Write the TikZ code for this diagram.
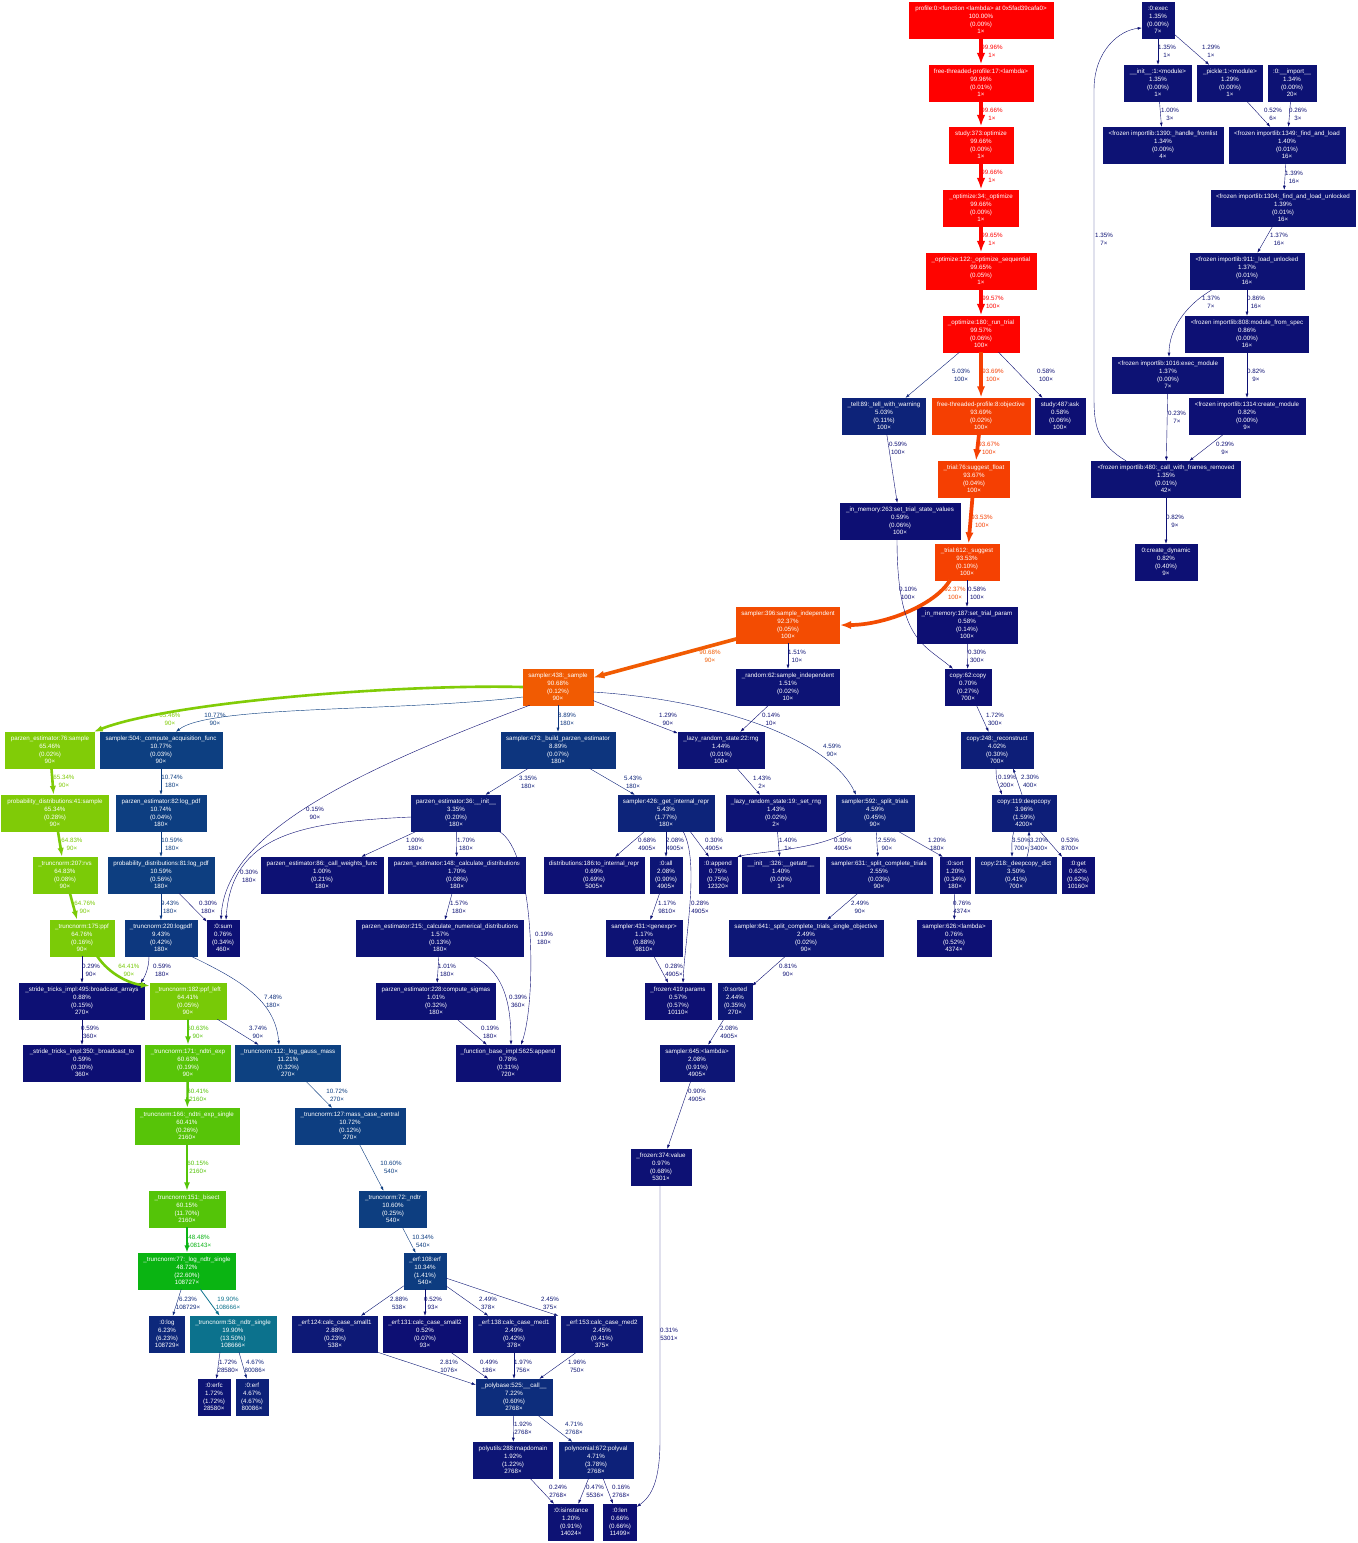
\documentclass[tikz,border=0pt]{standalone}
\usepackage{fontspec}
\setmainfont{Liberation Sans}
\usetikzlibrary{arrows.meta}
\newcommand\heat[2]{%
  \pgfmathsetmacro\hcH{(1-#2)*2/3}%
  \pgfmathsetmacro\hcS{0.8+0.2*#2}%
  \pgfmathsetmacro\hcT{2*\hcS/(1+\hcS)}%
  \pgfmathsetmacro\hcV{min((0.25+0.25*#2)*(1+\hcS),1)}%
  \edef\hcDo{\noexpand\convertcolorspec{hsb}{\hcH,\hcT,\hcV}{rgb}\noexpand\hcRGB}\hcDo
  \definecolor{#1}{rgb}{\hcRGB}}
\newcommand\gfont{\fontsize{6.2}{7.8}\selectfont}
\begin{document}
\begin{tikzpicture}[x=1pt,y=-1pt]
    \tikzset{fn/.style 2 args={/utils/exec={\heat{nc}{#2}},fill=nc,draw=nc,
        minimum width=#1pt,minimum height=36pt,inner sep=0pt,text=white,
        align=center,font=\gfont},
      call/.style={/utils/exec={\heat{ec}{#1}\pgfmathsetmacro\ew{max(4*#1,0.4)}},
        draw=ec,line width=\ew pt,-{Latex[length=3.2pt 2.2,width=2.2pt 1.6]}},
      lbl/.style={text=ec,align=center,font=\gfont,inner sep=0pt}}
    \fill[white] (0,0) rectangle (1358,1543);
    \useasboundingbox (0,0) rectangle (1358,1543);
    %\node (name) at (x,y) [fn={width}{weight}] {text};
    %\draw [call=weight] (a) -- (b) node[lbl] at (x,y) {label};
    \node (prof) at (981,20) [fn={144}{1}] {profile:0:<function <lambda> at 0x5fad39cafa0>\\100.00\%\\(0.00\%)\\1×};
    \node (ft17) at (981,83) [fn={104}{0.9996}] {free-threaded-profile:17:<lambda>\\99.96\%\\(0.01\%)\\1×};
    \node (opt373) at (981,145) [fn={64}{0.9966}] {study:373:optimize\\99.66\%\\(0.00\%)\\1×};
    \node (opt34) at (981,208) [fn={75}{0.9966}] {\_optimize:34:\_optimize\\99.66\%\\(0.00\%)\\1×};
    \node (opt122) at (981,271) [fn={110}{0.9965}] {\_optimize:122:\_optimize\_sequential\\99.65\%\\(0.05\%)\\1×};
    \node (run180) at (981,334) [fn={76}{0.9957}] {\_optimize:180:\_run\_trial\\99.57\%\\(0.06\%)\\100×};
    \node (tell89) at (884,416) [fn={83}{0.0503}] {\_tell:89:\_tell\_with\_warning\\5.03\%\\(0.11\%)\\100×};
    \node (obj8) at (981,416) [fn={98}{0.9369}] {free-threaded-profile:8:objective\\93.69\%\\(0.02\%)\\100×};
    \node (ask487) at (1060,416) [fn={50}{0.0058}] {study:487:ask\\0.58\%\\(0.06\%)\\100×};
    \node (sf76) at (974,479) [fn={71}{0.9367}] {\_trial:76:suggest\_float\\93.67\%\\(0.04\%)\\100×};
    \node (sts263) at (900,521) [fn={120}{0.0059}] {\_in\_memory:263:set\_trial\_state\_values\\0.59\%\\(0.06\%)\\100×};
    \node (sug612) at (967,562) [fn={64}{0.9353}] {\_trial:612:\_suggest\\93.53\%\\(0.10\%)\\100×};
    \node (si396) at (788,625) [fn={103}{0.9237}] {sampler:396:sample\_independent\\92.37\%\\(0.05\%)\\100×};
    \node (stp187) at (967,625) [fn={100}{0.0058}] {\_in\_memory:187:set\_trial\_param\\0.58\%\\(0.14\%)\\100×};
    \node (smp438) at (558,687) [fn={70}{0.9068}] {sampler:438:\_sample\\90.68\%\\(0.12\%)\\90×};
    \node (rsi62) at (788,687) [fn={103}{0.0151}] {\_random:62:sample\_independent\\1.51\%\\(0.02\%)\\10×};
    \node (copy62) at (968,687) [fn={46}{0.0070}] {copy:62:copy\\0.70\%\\(0.27\%)\\700×};
    \node (p76) at (50,750) [fn={89}{0.6546}] {parzen\_estimator:76:sample\\65.46\%\\(0.02\%)\\90×};
    \node (acq504) at (161,750) [fn={122}{0.1077}] {sampler:504:\_compute\_acquisition\_func\\10.77\%\\(0.03\%)\\90×};
    \node (bpe473) at (558,750) [fn={114}{0.0889}] {sampler:473:\_build\_parzen\_estimator\\8.89\%\\(0.07\%)\\180×};
    \node (rng22) at (721,750) [fn={86}{0.0144}] {\_lazy\_random\_state:22:rng\\1.44\%\\(0.01\%)\\100×};
    \node (rec248) at (997,750) [fn={72}{0.0402}] {copy:248:\_reconstruct\\4.02\%\\(0.30\%)\\700×};
    \node (pd41) at (55,813) [fn={107}{0.6534}] {probability\_distributions:41:sample\\65.34\%\\(0.28\%)\\90×};
    \node (lp82) at (161,813) [fn={90}{0.1074}] {parzen\_estimator:82:log\_pdf\\10.74\%\\(0.04\%)\\180×};
    \node (init36) at (456,813) [fn={89}{0.0335}] {parzen\_estimator:36:\_\_init\_\_\\3.35\%\\(0.20\%)\\180×};
    \node (gir426) at (666,813) [fn={96}{0.0543}] {sampler:426:\_get\_internal\_repr\\5.43\%\\(1.77\%)\\180×};
    \node (srng19) at (776,813) [fn={100}{0.0143}] {\_lazy\_random\_state:19:\_set\_rng\\1.43\%\\(0.02\%)\\2×};
    \node (st592) at (875,813) [fn={78}{0.0459}] {sampler:592:\_split\_trials\\4.59\%\\(0.45\%)\\90×};
    \node (dc119) at (1024,813) [fn={64}{0.0396}] {copy:119:deepcopy\\3.96\%\\(1.59\%)\\4200×};
    \node (rvs207) at (65,875) [fn={64}{0.6483}] {\_truncnorm:207:rvs\\64.83\%\\(0.08\%)\\90×};
    \node (pd81) at (161,875) [fn={106}{0.1059}] {probability\_distributions:81:log\_pdf\\10.59\%\\(0.56\%)\\180×};
    \node (cwf86) at (322,875) [fn={122}{0.0100}] {parzen\_estimator:86:\_call\_weights\_func\\1.00\%\\(0.21\%)\\180×};
    \node (cd148) at (457,875) [fn={137}{0.0170}] {parzen\_estimator:148:\_calculate\_distributions\\1.70\%\\(0.08\%)\\180×};
    \node (tir186) at (594,875) [fn={100}{0.0069}] {distributions:186:to\_internal\_repr\\0.69\%\\(0.69\%)\\5005×};
    \node (all0) at (666,875) [fn={32}{0.0208}] {:0:all\\2.08\%\\(0.90\%)\\4905×};
    \node (app0) at (718,875) [fn={38}{0.0075}] {:0:append\\0.75\%\\(0.75\%)\\12320×};
    \node (ga326) at (781,875) [fn={77}{0.0140}] {\_\_init\_\_:326:\_\_getattr\_\_\\1.40\%\\(0.00\%)\\1×};
    \node (sct631) at (879,875) [fn={106}{0.0255}] {sampler:631:\_split\_complete\_trials\\2.55\%\\(0.03\%)\\90×};
    \node (sort0) at (955,875) [fn={30}{0.0120}] {:0:sort\\1.20\%\\(0.34\%)\\180×};
    \node (dcd218) at (1016,875) [fn={81}{0.0350}] {copy:218:\_deepcopy\_dict\\3.50\%\\(0.41\%)\\700×};
    \node (get0) at (1078,875) [fn={32}{0.0062}] {:0:get\\0.62\%\\(0.62\%)\\10160×};
    \node (ppf175) at (82,938) [fn={64}{0.6476}] {\_truncnorm:175:ppf\\64.76\%\\(0.16\%)\\90×};
    \node (lpdf220) at (161,938) [fn={72}{0.0943}] {\_truncnorm:220:logpdf\\9.43\%\\(0.42\%)\\180×};
    \node (sum0) at (223,938) [fn={32}{0.0076}] {:0:sum\\0.76\%\\(0.34\%)\\460×};
    \node (cnd215) at (440,938) [fn={167}{0.0157}] {parzen\_estimator:215:\_calculate\_numerical\_distributions\\1.57\%\\(0.13\%)\\180×};
    \node (gex431) at (644,938) [fn={76}{0.0117}] {sampler:431:<genexpr>\\1.17\%\\(0.88\%)\\9810×};
    \node (sso641) at (806,938) [fn={154}{0.0249}] {sampler:641:\_split\_complete\_trials\_single\_objective\\2.49\%\\(0.02\%)\\90×};
    \node (lam626) at (954,938) [fn={74}{0.0076}] {sampler:626:<lambda>\\0.76\%\\(0.52\%)\\4374×};
    \node (ba495) at (82,1001) [fn={125}{0.0088}] {\_stride\_tricks\_impl:495:broadcast\_arrays\\0.88\%\\(0.15\%)\\270×};
    \node (ppl182) at (188,1001) [fn={76}{0.6441}] {\_truncnorm:182:ppf\_left\\64.41\%\\(0.05\%)\\90×};
    \node (cs228) at (436,1001) [fn={119}{0.0101}] {parzen\_estimator:228:compute\_sigmas\\1.01\%\\(0.32\%)\\180×};
    \node (par419) at (678,1001) [fn={66}{0.0057}] {\_frozen:419:params\\0.57\%\\(0.57\%)\\10110×};
    \node (srt0) at (735,1001) [fn={34}{0.0244}] {:0:sorted\\2.44\%\\(0.35\%)\\270×};
    \node (bt350) at (82,1063) [fn={117}{0.0059}] {\_stride\_tricks\_impl:350:\_broadcast\_to\\0.59\%\\(0.30\%)\\360×};
    \node (ne171) at (188,1063) [fn={85}{0.6063}] {\_truncnorm:171:\_ndtri\_exp\\60.63\%\\(0.19\%)\\90×};
    \node (lgm112) at (288,1063) [fn={105}{0.1121}] {\_truncnorm:112:\_log\_gauss\_mass\\11.21\%\\(0.32\%)\\270×};
    \node (fba5625) at (508,1063) [fn={104}{0.0078}] {\_function\_base\_impl:5625:append\\0.78\%\\(0.31\%)\\720×};
    \node (lam645) at (697,1063) [fn={74}{0.0208}] {sampler:645:<lambda>\\2.08\%\\(0.91\%)\\4905×};
    \node (nes166) at (187,1126) [fn={104}{0.6041}] {\_truncnorm:166:\_ndtri\_exp\_single\\60.41\%\\(0.26\%)\\2160×};
    \node (mcc127) at (350,1126) [fn={110}{0.1072}] {\_truncnorm:127:mass\_case\_central\\10.72\%\\(0.12\%)\\270×};
    \node (val374) at (661,1167) [fn={60}{0.0097}] {\_frozen:374:value\\0.97\%\\(0.68\%)\\5301×};
    \node (bis151) at (187,1209) [fn={76}{0.6015}] {\_truncnorm:151:\_bisect\\60.15\%\\(11.70\%)\\2160×};
    \node (ndtr72) at (393,1209) [fn={67}{0.1060}] {\_truncnorm:72:\_ndtr\\10.60\%\\(0.25\%)\\540×};
    \node (lns77) at (187,1271) [fn={97}{0.4872}] {\_truncnorm:77:\_log\_ndtr\_single\\48.72\%\\(22.60\%)\\108727×};
    \node (erf108) at (425,1271) [fn={42}{0.1034}] {\_erf:108:erf\\10.34\%\\(1.41\%)\\540×};
    \node (log0) at (167,1334) [fn={35}{0.0623}] {:0:log\\6.23\%\\(6.23\%)\\108729×};
    \node (ns58) at (233,1334) [fn={86}{0.1990}] {\_truncnorm:58:\_ndtr\_single\\19.90\%\\(13.50\%)\\108666×};
    \node (cs124) at (335,1334) [fn={85}{0.0288}] {\_erf:124:calc\_case\_small1\\2.88\%\\(0.23\%)\\538×};
    \node (cs131) at (425,1334) [fn={84}{0.0052}] {\_erf:131:calc\_case\_small2\\0.52\%\\(0.07\%)\\93×};
    \node (cm138) at (514,1334) [fn={82}{0.0249}] {\_erf:138:calc\_case\_med1\\2.49\%\\(0.42\%)\\378×};
    \node (cm153) at (602,1334) [fn={81}{0.0245}] {\_erf:153:calc\_case\_med2\\2.45\%\\(0.41\%)\\375×};
    \node (erfc0) at (214,1397) [fn={32}{0.0172}] {:0:erfc\\1.72\%\\(1.72\%)\\28580×};
    \node (erf0) at (252,1397) [fn={32}{0.0467}] {:0:erf\\4.67\%\\(4.67\%)\\80086×};
    \node (pb525) at (514,1397) [fn={76}{0.0722}] {\_polybase:525:\_\_call\_\_\\7.22\%\\(0.60\%)\\2768×};
    \node (md288) at (513,1460) [fn={79}{0.0192}] {polyutils:288:mapdomain\\1.92\%\\(1.22\%)\\2768×};
    \node (pv672) at (596,1460) [fn={74}{0.0471}] {polynomial:672:polyval\\4.71\%\\(3.78\%)\\2768×};
    \node (isi0) at (571,1522) [fn={45}{0.0120}] {:0:isinstance\\1.20\%\\(0.91\%)\\14024×};
    \node (len0) at (620,1522) [fn={33}{0.0066}] {:0:len\\0.66\%\\(0.66\%)\\11499×};
    \node (exec0) at (1158,20) [fn={32}{0.0135}] {:0:exec\\1.35\%\\(0.00\%)\\7×};
    \node (im1) at (1158,83) [fn={67}{0.0135}] {\_\_init\_\_:1:<module>\\1.35\%\\(0.00\%)\\1×};
    \node (pk1) at (1230,83) [fn={65}{0.0129}] {\_pickle:1:<module>\\1.29\%\\(0.00\%)\\1×};
    \node (imp0) at (1292,83) [fn={48}{0.0134}] {:0:\_\_import\_\_\\1.34\%\\(0.00\%)\\20×};
    \node (hf1390) at (1163,145) [fn={120}{0.0134}] {<frozen importlib:1390:\_handle\_fromlist\\1.34\%\\(0.00\%)\\4×};
    \node (fl1349) at (1287,145) [fn={116}{0.0140}] {<frozen importlib:1349:\_find\_and\_load\\1.40\%\\(0.01\%)\\16×};
    \node (flu1304) at (1283,208) [fn={144}{0.0139}] {<frozen importlib:1304:\_find\_and\_load\_unlocked\\1.39\%\\(0.01\%)\\16×};
    \node (lu911) at (1247,271) [fn={114}{0.0137}] {<frozen importlib:911:\_load\_unlocked\\1.37\%\\(0.01\%)\\16×};
    \node (mfs808) at (1247,334) [fn={123}{0.0086}] {<frozen importlib:808:module\_from\_spec\\0.86\%\\(0.00\%)\\16×};
    \node (em1016) at (1168,375) [fn={111}{0.0137}] {<frozen importlib:1016:exec\_module\\1.37\%\\(0.00\%)\\7×};
    \node (cm1314) at (1247,416) [fn={116}{0.0082}] {<frozen importlib:1314:create\_module\\0.82\%\\(0.00\%)\\9×};
    \node (cwf480) at (1166,479) [fn={149}{0.0135}] {<frozen importlib:480:\_call\_with\_frames\_removed\\1.35\%\\(0.01\%)\\42×};
    \node (cd0) at (1166,562) [fn={62}{0.0082}] {0:create\_dynamic\\0.82\%\\(0.40\%)\\9×};

    \draw[call=0.9996] (prof) -- (ft17) node[lbl] at (992,51) {99.96\%\\1×};
    \draw[call=0.9966] (ft17) -- (opt373) node[lbl] at (992,114) {99.66\%\\1×};
    \draw[call=0.9966] (opt373) -- (opt34) node[lbl] at (992,176) {99.66\%\\1×};
    \draw[call=0.9965] (opt34) -- (opt122) node[lbl] at (992,239) {99.65\%\\1×};
    \draw[call=0.9957] (opt122) -- (run180) node[lbl] at (993,302) {99.57\%\\100×};
    \draw[call=0.0503] (run180) -- (tell89) node[lbl] at (961,375) {5.03\%\\100×};
    \draw[call=0.9369] (run180) -- (obj8) node[lbl] at (993,375) {93.69\%\\100×};
    \draw[call=0.0058] (run180) -- (ask487) node[lbl] at (1046,375) {0.58\%\\100×};
    \draw[call=0.9367] (obj8) -- (sf76) node[lbl] at (989,448) {93.67\%\\100×};
    \draw[call=0.9353] (sf76) -- (sug612) node[lbl] at (982,521) {93.53\%\\100×};
    \draw[call=0.0059] (tell89) -- (sts263) node[lbl] at (898,448) {0.59\%\\100×};
    \draw[call=0.9237] ([xshift=-17pt]sug612.south) .. controls +(-15,25) and +(45,0) .. (si396.east) node[lbl] at (955,593) {92.37\%\\100×};
    \draw[call=0.0058] (sug612) -- (stp187) node[lbl] at (977,593) {0.58\%\\100×};
    \draw[call=0.0010] ([xshift=-3pt]sts263.south) .. controls +(0,100) and +(-30,-25) .. ([xshift=-15pt]copy62.north) node[lbl] at (908,593) {0.10\%\\100×};
    \draw[call=0.0030] (stp187) -- (copy62) node[lbl] at (977,656) {0.30\%\\300×};
    \draw[call=0.9068] (si396) -- (smp438) node[lbl] at (710,656) {90.68\%\\90×};
    \draw[call=0.0151] (si396) -- (rsi62) node[lbl] at (797,656) {1.51\%\\10×};
    \draw[call=0.0014] (rsi62) -- (rng22) node[lbl] at (771,719) {0.14\%\\10×};
    \draw[call=0.0889] (smp438) -- (bpe473) node[lbl] at (567,719) {8.89\%\\180×};
    \draw[call=0.0129] (smp438) -- (rng22) node[lbl] at (668,719) {1.29\%\\90×};
    \draw[call=0.0459] ([yshift=-5pt]smp438.east) .. controls (720,700) and (830,740) .. ([xshift=-19pt]st592.north) node[lbl] at (832,750) {4.59\%\\90×};
    \draw[call=0.6546] (smp438.west) .. controls (400,684) and (170,702) .. ([xshift=-1pt]p76.north east) node[lbl] at (170,719) {65.46\%\\90×};
    \draw[call=0.1077] ([yshift=-10pt]smp438.west) .. controls (400,712) and (210,705) .. ([xshift=15pt]acq504.north) node[lbl] at (215,719) {10.77\%\\90×};
    \draw[call=0.0015] ([xshift=7pt]smp438.south west) .. controls (330,780) and (225,840) .. ([xshift=-2pt]sum0.north) node[lbl] at (315,813) {0.15\%\\90×};
    \draw[call=0.6534] (p76) -- (pd41) node[lbl] at (64,781) {65.34\%\\90×};
    \draw[call=0.1074] (acq504) -- (lp82) node[lbl] at (172,781) {10.74\%\\180×};
    \draw[call=0.6483] (pd41) -- (rvs207) node[lbl] at (72,844) {64.83\%\\90×};
    \draw[call=0.1059] (lp82) -- (pd81) node[lbl] at (172,844) {10.59\%\\180×};
    \draw[call=0.0030] ([yshift=-4pt]init36.west) .. controls (300,822) and (232,835) .. ([xshift=3pt]sum0.north) node[lbl] at (249,876) {0.30\%\\180×};
    \draw[call=0.0100] (init36) -- (cwf86) node[lbl] at (415,844) {1.00\%\\180×};
    \draw[call=0.0170] (init36) -- (cd148) node[lbl] at (466,844) {1.70\%\\180×};
    \draw[call=0.0019] ([xshift=-2pt]init36.south east) .. controls (535,850) and (537,1000) .. ([xshift=13pt]fba5625.north) node[lbl] at (544,938) {0.19\%\\180×};
    \draw[call=0.6476] (rvs207) -- (ppf175) node[lbl] at (85,907) {64.76\%\\90×};
    \draw[call=0.0943] (pd81) -- (lpdf220) node[lbl] at (170,907) {9.43\%\\180×};
    \draw[call=0.0030] (pd81) -- (sum0) node[lbl] at (208,907) {0.30\%\\180×};
    \draw[call=0.0157] (cd148) -- (cnd215) node[lbl] at (459,907) {1.57\%\\180×};
    \draw[call=0.0029] (ppf175) -- (ba495) node[lbl] at (91,970) {0.29\%\\90×};
    \draw[call=0.6441] ([xshift=-17pt]ppf175.south east) .. controls +(12,18) and +(-20,-2) .. ([yshift=-3pt]ppl182.north west) node[lbl] at (129,970) {64.41\%\\90×};
    \draw[call=0.0059] ([xshift=-12pt]lpdf220.south) .. controls +(0,12) and +(4,-6) .. ([xshift=-4pt]ba495.north east) node[lbl] at (162,970) {0.59\%\\180×};
    \draw[call=0.0748] ([xshift=30pt]lpdf220.south) .. controls (240,980) and (275,1000) .. ([xshift=-9pt]lgm112.north) node[lbl] at (273,1001) {7.48\%\\180×};
    \draw[call=0.0101] (cnd215) -- (cs228) node[lbl] at (447,970) {1.01\%\\180×};
    \draw[call=0.0039] ([xshift=33pt]cnd215.south) .. controls +(27,14) and +(0,-50) .. ([xshift=3pt]fba5625.north) node[lbl] at (518,1001) {0.39\%\\360×};
    \draw[call=0.0019] (cs228) -- (fba5625) node[lbl] at (490,1032) {0.19\%\\180×};
    \draw[call=0.0059] (ba495) -- (bt350) node[lbl] at (90,1032) {0.59\%\\360×};
    \draw[call=0.6063] (ppl182) -- (ne171) node[lbl] at (198,1032) {60.63\%\\90×};
    \draw[call=0.0374] (ppl182) -- (lgm112) node[lbl] at (258,1032) {3.74\%\\90×};
    \draw[call=0.6041] (ne171) -- (nes166) node[lbl] at (198,1095) {60.41\%\\2160×};
    \draw[call=0.1072] (lgm112) -- (mcc127) node[lbl] at (337,1095) {10.72\%\\270×};
    \draw[call=0.6015] (nes166) -- (bis151) node[lbl] at (198,1167) {60.15\%\\2160×};
    \draw[call=0.1060] (mcc127) -- (ndtr72) node[lbl] at (391,1167) {10.60\%\\540×};
    \draw[call=0.4848] (bis151) -- (lns77) node[lbl] at (199,1241) {48.48\%\\108143×};
    \draw[call=0.1034] (ndtr72) -- (erf108) node[lbl] at (423,1241) {10.34\%\\540×};
    \draw[call=0.0623] (lns77) -- (log0) node[lbl] at (188,1303) {6.23\%\\108729×};
    \draw[call=0.1990] (lns77) -- (ns58) node[lbl] at (228,1303) {19.90\%\\108666×};
    \draw[call=0.0288] (erf108) -- (cs124) node[lbl] at (399,1303) {2.88\%\\538×};
    \draw[call=0.0052] (erf108) -- (cs131) node[lbl] at (433,1303) {0.52\%\\93×};
    \draw[call=0.0249] (erf108) -- (cm138) node[lbl] at (488,1303) {2.49\%\\378×};
    \draw[call=0.0245] (erf108) -- ([xshift=-3pt]cm153.north west) node[lbl] at (550,1303) {2.45\%\\375×};
    \draw[call=0.0172] ([xshift=-13pt]ns58.south) -- (erfc0) node[lbl] at (228,1366) {1.72\%\\28580×};
    \draw[call=0.0467] ([xshift=6pt]ns58.south) -- (erf0) node[lbl] at (255,1366) {4.67\%\\80086×};
    \draw[call=0.0281] (cs124.south east) -- ([yshift=-6pt]pb525.north west) node[lbl] at (449,1366) {2.81\%\\1076×};
    \draw[call=0.0049] (cs131) -- (pb525) node[lbl] at (489,1366) {0.49\%\\186×};
    \draw[call=0.0197] (cm138) -- (pb525) node[lbl] at (523,1366) {1.97\%\\756×};
    \draw[call=0.0196] (cm153) -- (pb525) node[lbl] at (577,1366) {1.96\%\\750×};
    \draw[call=0.0192] (pb525) -- (md288) node[lbl] at (523,1428) {1.92\%\\2768×};
    \draw[call=0.0471] (pb525) -- (pv672) node[lbl] at (574,1428) {4.71\%\\2768×};
    \draw[call=0.0024] (md288) -- (isi0) node[lbl] at (558,1491) {0.24\%\\2768×};
    \draw[call=0.0047] (pv672) -- (isi0) node[lbl] at (595,1491) {0.47\%\\5536×};
    \draw[call=0.0016] (pv672) -- (len0) node[lbl] at (621,1491) {0.16\%\\2768×};
    \draw[call=0.0031] ([xshift=-1pt]val374.south) -- (660,1440) .. controls (660,1480) and (652,1496) .. ([yshift=-3pt]len0.north east) node[lbl] at (669,1334) {0.31\%\\5301×};
    \draw[call=0.0335] (bpe473) -- (init36) node[lbl] at (528,782) {3.35\%\\180×};
    \draw[call=0.0543] (bpe473) -- (gir426) node[lbl] at (633,782) {5.43\%\\180×};
    \draw[call=0.0143] (rng22) -- (srng19) node[lbl] at (762,782) {1.43\%\\2×};
    \draw[call=0.0068] (gir426) -- (tir186) node[lbl] at (647,844) {0.68\%\\4905×};
    \draw[call=0.0208] (gir426) -- (all0) node[lbl] at (675,844) {2.08\%\\4905×};
    \draw[call=0.0030] ([xshift=24pt]gir426.south) -- ([xshift=-9pt]app0.north) node[lbl] at (714,844) {0.30\%\\4905×};
    \draw[call=0.0028] ([xshift=17pt]gir426.south) .. controls +(17,30) and +(2,-45) .. ([xshift=5pt]par419.north) node[lbl] at (700,907) {0.28\%\\4905×};
    \draw[call=0.0140] (srng19) -- (ga326) node[lbl] at (788,844) {1.40\%\\1×};
    \draw[call=0.0030] ([xshift=-28pt]st592.south) .. controls +(-25,18) and +(20,-5) .. (app0.north east) node[lbl] at (843,844) {0.30\%\\4905×};
    \draw[call=0.0255] (st592) -- (sct631) node[lbl] at (887,844) {2.55\%\\90×};
    \draw[call=0.0120] ([xshift=23pt]st592.south) -- ([xshift=3pt]sort0.north west) node[lbl] at (937,844) {1.20\%\\180×};
    \draw[call=0.0172] (copy62) -- (rec248) node[lbl] at (995,719) {1.72\%\\300×};
    \draw[call=0.0019] ([xshift=-1pt]rec248.south) .. controls +(0,14) and +(-4,-12) .. ([xshift=-22pt]dc119.north) node[lbl] at (1007,781) {0.19\%\\200×};
    \draw[call=0.0230] ([xshift=-2pt]dc119.north) -- ([xshift=16pt]rec248.south) node[lbl] at (1030,781) {2.30\%\\400×};
    \draw[call=0.0350] ([xshift=-10pt]dc119.south) .. controls +(-3,10) and +(0,-10) .. ([xshift=-4pt]dcd218.north) node[lbl] at (1021,844) {3.50\%\\700×};
    \draw[call=0.0320] ([xshift=11pt]dcd218.north) .. controls +(3,-10) and +(0,10) .. ([xshift=5pt]dc119.south) node[lbl] at (1039,844) {3.20\%\\3400×};
    \draw[call=0.0053] (dc119) -- (get0) node[lbl] at (1070,844) {0.53\%\\8700×};
    \draw[call=0.0076] (sort0) -- (lam626) node[lbl] at (962,907) {0.76\%\\4374×};
    \draw[call=0.0117] (all0) -- (gex431) node[lbl] at (667,907) {1.17\%\\9810×};
    \draw[call=0.0249] (sct631) -- (sso641) node[lbl] at (860,907) {2.49\%\\90×};
    \draw[call=0.0028] (gex431) -- (par419) node[lbl] at (674,970) {0.28\%\\4905×};
    \draw[call=0.0081] (sso641) -- (srt0) node[lbl] at (788,970) {0.81\%\\90×};
    \draw[call=0.0208] (srt0) -- (lam645) node[lbl] at (729,1032) {2.08\%\\4905×};
    \draw[call=0.0090] (lam645) -- (val374) node[lbl] at (697,1095) {0.90\%\\4905×};
    \draw[call=0.0135] (exec0) -- (im1) node[lbl] at (1167,51) {1.35\%\\1×};
    \draw[call=0.0129] (exec0) -- (pk1) node[lbl] at (1211,51) {1.29\%\\1×};
    \draw[call=0.0100] (im1) -- (hf1390) node[lbl] at (1170,114) {1.00\%\\3×};
    \draw[call=0.0052] (pk1) -- (fl1349) node[lbl] at (1273,114) {0.52\%\\6×};
    \draw[call=0.0026] (imp0) -- (fl1349) node[lbl] at (1298,114) {0.26\%\\3×};
    \draw[call=0.0139] (fl1349) -- (flu1304) node[lbl] at (1294,177) {1.39\%\\16×};
    \draw[call=0.0137] (flu1304) -- (lu911) node[lbl] at (1279,239) {1.37\%\\16×};
    \draw[call=0.0137] ([xshift=-34pt]lu911.south) .. controls +(-28,16) and +(0,-27) .. ([xshift=1pt]em1016.north) node[lbl] at (1211,302) {1.37\%\\7×};
    \draw[call=0.0086] (lu911) -- (mfs808) node[lbl] at (1256,302) {0.86\%\\16×};
    \draw[call=0.0082] (mfs808) -- (cm1314) node[lbl] at (1256,375) {0.82\%\\9×};
    \draw[call=0.0023] (em1016) -- (cwf480) node[lbl] at (1177,417) {0.23\%\\7×};
    \draw[call=0.0029] (cm1314) -- (cwf480) node[lbl] at (1225,448) {0.29\%\\9×};
    \draw[call=0.0082] (cwf480) -- (cd0) node[lbl] at (1175,521) {0.82\%\\9×};
    \draw[call=0.0135] ([xshift=-40pt]cwf480.north) .. controls (1100,445) and (1094,430) .. (1094,400) -- (1094,90) .. controls (1094,50) and (1120,30) .. ([yshift=-8pt]exec0.west) node[lbl] at (1104,239) {1.35\%\\7×};
\end{tikzpicture}
\end{document}
